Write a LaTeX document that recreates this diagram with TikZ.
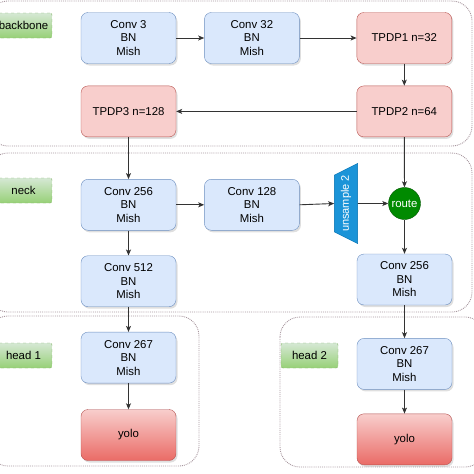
\documentclass[tikz,border=0pt]{standalone}
\usepackage{fontspec}
\setmainfont{Liberation Sans}
\usetikzlibrary{positioning, arrows.meta, shapes.geometric, shadows}

\definecolor{convfill}{HTML}{DAE8FC}
\definecolor{convline}{HTML}{6C8EBF}
\definecolor{tpdpfill}{HTML}{F8CECC}
\definecolor{tpdpline}{HTML}{B85450}
\definecolor{yolobot}{HTML}{EA6B66}
\definecolor{tagtop}{HTML}{D5E8D4}
\definecolor{tagbot}{HTML}{97D077}
\definecolor{tagline}{HTML}{82B366}
\definecolor{routefill}{HTML}{008A00}
\definecolor{routeline}{HTML}{005700}
\definecolor{upsfill}{HTML}{1B94D8}
\definecolor{upsline}{HTML}{006EAF}
\definecolor{regionline}{HTML}{A8979F}
\definecolor{edgeline}{HTML}{333333}

\begin{document}
\begin{tikzpicture}[
        x=1pt, y=-1pt,
        every node/.style={
            align=center,
            font=\fontsize{11.4}{13.5}\selectfont
        },
        convbox/.style={
            rectangle,
            draw=convline,
            fill=convfill,
            rounded corners=7pt,
            minimum width=95pt,
            minimum height=51pt,
            drop shadow={shadow xshift=1.5pt, shadow yshift=-2pt, opacity=0.25}
        },
        tpdpbox/.style={
            convbox,
            draw=tpdpline,
            fill=tpdpfill
        },
        yolobox/.style={
            convbox,
            draw=tpdpline,
            top color=tpdpfill,
            bottom color=yolobot
        },
        tagbox/.style={
            rectangle,
            draw=tagline,
            dashed,
            top color=tagtop,
            bottom color=tagbot,
            rounded corners=2pt,
            minimum width=57pt,
            minimum height=25pt,
            inner sep=0pt
        },
        routenode/.style={
            circle,
            draw=routeline,
            fill=routefill,
            text=white,
            minimum size=32pt,
            inner sep=0pt
        },
        upsnode/.style={
            trapezium,
            rotate=90,
            draw=upsline,
            fill=upsfill,
            text=white,
            trapezium left angle=63.4,
            trapezium right angle=63.4,
            inner xsep=0pt,
            inner ysep=6.5pt,
            font=\fontsize{11}{12}\selectfont
        },
        region/.style={
            draw=regionline,
            densely dotted,
            line width=0.9pt,
            rounded corners=20pt
        },
        arrow/.style={
            -{Stealth[length=6pt, width=5pt, inset=1.5pt]},
            draw=edgeline,
            line width=0.9pt
        }
    ]

    \useasboundingbox (0,0) rectangle (474,474);
    \clip (0,0) rectangle (474,474);

    % Bereiche
    \draw[region] (-12,1) rectangle (472,146);
    \draw[region] (-12,153) rectangle (472,312);
    \draw[region] (-12,316) rectangle (199,466);
    \draw[region] (280,317) rectangle (485,467);

    % Beschriftungen
    \node[tagbox] (tagbackbone) at (23.5,25.5) {backbone};
    \node[tagbox] (tagneck) at (23.5,190.5) {neck};
    \node[tagbox] (taghead1) at (23.5,355.5) {head 1};
    \node[tagbox] (taghead2) at (309.5,355.5) {head 2};

    % backbone
    \node[convbox] (conv3) at (128.5,38) {Conv 3\\BN\\Mish};
    \node[convbox, right=28pt of conv3] (conv32) {Conv 32\\BN\\Mish};
    \node[tpdpbox, right=57pt of conv32] (tpdp1) {TPDP1 n=32};
    \node[tpdpbox, below=22pt of tpdp1] (tpdp2) {TPDP2 n=64};
    \node[tpdpbox, below=22pt of conv3] (tpdp3) {TPDP3 n=128};

    % neck
    \node[convbox, below=42pt of tpdp3] (conv256a) {Conv 256\\BN\\Mish};
    \node[convbox, right=28pt of conv256a] (conv128) {Conv 128\\BN\\Mish};
    \node[upsnode] (ups) at (346,203.5) {unsample 2};
    \node[routenode] (route) at (404.5,203.5) {route};
    \node[convbox, below=25pt of conv256a] (conv512) {Conv 512\\BN\\Mish};
    \node[convbox] (conv256b) at (404.5,279.5) {Conv 256\\BN\\Mish};

    % heads
    \node[convbox, below=25pt of conv512] (conv267a) {Conv 267\\BN\\Mish};
    \node[yolobox, below=26pt of conv267a] (yoloa) {yolo};
    \node[convbox, below=33pt of conv256b] (conv267b) {Conv 267\\BN\\Mish};
    \node[yolobox, below=24pt of conv267b] (yolob) {yolo};

    % Verbindungen
    \draw[arrow] (conv3) -- (conv32);
    \draw[arrow] (conv32) -- (tpdp1);
    \draw[arrow] (tpdp1) -- (tpdp2);
    \draw[arrow] (tpdp2) -- (tpdp3);
    \draw[arrow] (tpdp3) -- (conv256a);
    \draw[arrow] (tpdp2) -- (route);
    \draw[arrow] (conv256a) -- (conv128);
    \draw[arrow] (conv128.east) -- (ups.north);
    \draw[arrow] (ups.south) -- (route);
    \draw[arrow] (route) -- (conv256b);
    \draw[arrow] (conv256a) -- (conv512);
    \draw[arrow] (conv512) -- (conv267a);
    \draw[arrow] (conv267a) -- (yoloa);
    \draw[arrow] (conv256b) -- (conv267b);
    \draw[arrow] (conv267b) -- (yolob);

\end{tikzpicture}
\end{document}
